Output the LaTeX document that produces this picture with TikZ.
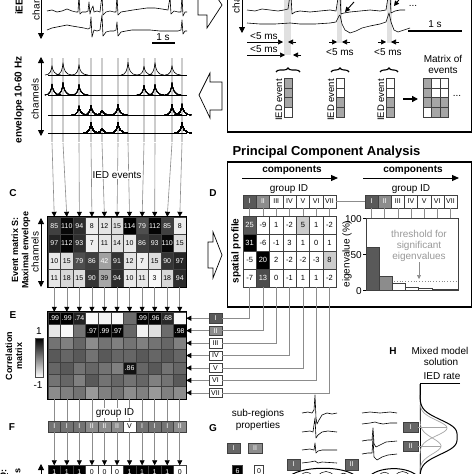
\documentclass[tikz,border=0pt]{standalone}
\usepackage{fontspec}
\setmainfont{Liberation Sans}
\usetikzlibrary{arrows.meta,decorations.pathreplacing}

\tikzset{
  fs/.style={font=\fontsize{#1}{#1}\selectfont},
  bl/.style={font=\bfseries\fontsize{10}{11}\selectfont},
  tx/.style={font=\fontsize{10}{11}\selectfont},
  gl/.style={draw=black!45, line width=0.6pt},
  arr/.style={draw=black!45, line width=0.6pt, -{Triangle[length=5pt,width=5pt,color=black]}},
  cellbox/.style={draw=black!75, line width=0.4pt, inner sep=0pt, anchor=center},
  trace/.style={line width=0.6pt, line join=round},
  hollow/.style={draw=black, line width=0.7pt, fill=white, line join=miter},
  panel/.style={draw=black, line width=1.4pt},
  tipk/.style={-{Triangle[length=5pt,width=5pt]}},
}

\newcommand\envpeak[3]{\draw[trace] ({#1-7},#2) .. controls ({#1-2},#2) and ({#1-0.6},{#2-0.45*#3}) .. (#1,{#2-#3}) .. controls ({#1+0.6},{#2-0.45*#3}) and ({#1+2.5},#2) .. ({#1+9},#2);}

\newcommand\crow[2]{\foreach \v [count=\c] in {#2}{%
  \pgfmathsetmacro\pc{min(100,\v*0.88)}%
  \ifnum\v>40 \def\tc{white}\else\def\tc{black}\fi
  \node[cellbox, minimum width=12.55pt, minimum height=17.5pt, fill=black!\pc, text=\tc, fs=7] (C-#1-\c) at ({48+12.55*(\c-0.5)},{217+17.5*(#1-0.5)}) {\v};}}

\newcommand\erow[2]{\foreach \v/\l [count=\c] in {#2}{%
  \pgfmathsetmacro\pc{(\v+1)*50}%
  \node[cellbox, minimum width=12.55pt, minimum height=12.43pt, fill=black!\pc, text=white, fs=7] (E-#1-\c) at ({48+12.55*(\c-0.5)},{312+12.43*(#1-0.5)}) {\l};}}

\newcommand\drow[2]{\foreach \l/\f [count=\c] in {#2}{%
  \ifnum\f>40 \def\tc{white}\else\def\tc{black}\fi
  \node[cellbox, minimum width=13.3pt, minimum height=17.75pt, fill=black!\f, text=\tc, fs=7.5] (D-#1-\c) at ({243+13.3*(\c-0.5)},{216+17.75*(#1-0.5)}) {\l};}}

\newcommand\gidrow[6]{\foreach \l/\f [count=\c] in {#6}{%
  \ifnum\f>40 \def\tc{white}\else\def\tc{black}\fi
  \node[cellbox, minimum width=#3pt, minimum height=#5pt, fill=black!\f, text=\tc, fs=7] (#1-\c) at ({#2+#3*(\c-0.5)},#4) {\l};}}

\newcommand\evcol[3]{\foreach \f [count=\r] in {#3}{%
  \node[cellbox, minimum width=8.5pt, minimum height=9.75pt, fill=black!\f] (#1-\r) at ({#2+4.25},{78+9.75*(\r-0.5)}) {};}}

\begin{document}
\begin{tikzpicture}[x=1pt,y=-1pt]
\useasboundingbox (0,0) rectangle (474,474);
\clip (0,0) rectangle (474,474);
\fill[white] (0,0) rectangle (474,474);

% ---------------- Panel A (iEEG) ----------------
\node[bl, rotate=90] (lA) at (19,3) {iEEG};
\node[tx, rotate=90] (chA) at (36,0) {channels};
\draw[line width=0.8pt, -{Triangle[length=6pt,width=6pt]}] (41,-5) -- (41,39);
\draw[trace] plot coordinates {(47,11) (52,10) (57,12) (62,11) (67,9) (72,11) (76,12) (78,12) (79,-5) (80,14) (82,12) (86,12) (88,11) (89,2) (90,14) (91,10) (93,6) (94,12) (97,11) (100,12) (102,-5) (103,15) (106,12) (110,11) (114,12) (116,12) (117,-5) (118,15) (121,12) (127,11) (133,10) (140,9) (147,8) (155,8) (162,9) (168,10) (170,-3) (171,14) (174,11) (178,12) (181,12) (182,-5) (183,16) (185,12) (187,12)};
\draw[trace] plot coordinates {(47,30) (52,28) (57,27) (62,26) (67,25) (72,26) (78,27) (84,28) (88,29) (90,28) (91,17) (92,37) (94,30) (97,31) (100,30) (102,15) (103,36) (106,32) (110,31) (114,31) (116,30) (117,22) (118,36) (121,32) (126,31) (132,30) (140,30) (150,30) (160,31) (170,31) (178,31) (181,30) (182,20) (183,34) (185,31) (187,31)};
\draw[line width=2pt] (152,43) -- (175,43);
\node[tx] (sA) at (163,37) {1 s};

% ---------------- Envelope ----------------
\node[bl, rotate=90] (lEnv) at (19,100) {envelope 10-60 Hz};
\node[tx, rotate=90] (chEnv) at (35,99) {channels};
\draw[line width=0.8pt, {Triangle[length=6pt,width=6pt]}-{Triangle[length=6pt,width=6pt]}] (41,57) -- (41,136);
\foreach \x in {52,63,79,91,102,118,128,144,155,172,182}
  \draw[black!20, line width=2pt] (\x,58) -- (\x,142);
\foreach \b in {75,95,115,133} \draw[trace] (48,\b) -- (187,\b);
\foreach \x/\h in {52/9.4,63/12.2,79/10.4,128/12.7,144/8.8,155/12.4,172/9.4} \envpeak{\x}{75}{\h}
\foreach \x/\h in {52/10.8,63/12.4,79/10.3,144/9.6,155/10.3,172/12.2} \envpeak{\x}{95}{\h}
\foreach \x/\h in {79/8.8,91/9.6,102/4.7,118/10.1,172/10,182/10.8} \envpeak{\x}{115}{\h}
\foreach \x/\h in {91/10,102/4.3,118/10.4,182/10.4} \envpeak{\x}{133}{\h}
\foreach \x [count=\c] in {52,63,79,91,102,118,128,144,155,172,182}
  \coordinate (ev\c) at (\x,143);

% ---------------- Hollow arrows ----------------
\draw[hollow] (198,-5) -- (207,-5) -- (207,-18) -- (222,5) -- (207,28) -- (207,15) -- (198,15) -- cycle;
\draw[hollow] (222,82) -- (210,82) -- (210,73) -- (199,95) -- (210,118) -- (210,110) -- (222,110) -- cycle;
\draw[hollow] (208,242) -- (213,242) -- (213,232) -- (222,255) -- (213,278) -- (213,268) -- (208,268) -- cycle;

% ---------------- Panel B ----------------
\fill[black!12] (284,-2) rectangle (291,55);
\fill[black!12] (337,-2) rectangle (342,43);
\fill[black!12] (387,-2) rectangle (392,43);
\node[tx, rotate=90] (chB) at (236,-7) {channels};
\draw[line width=0.8pt, -{Triangle[length=6pt,width=6pt]}] (242,-5) -- (242,33);
\draw[trace] plot coordinates {(247,10) (255,11) (262,9) (270,10) (278,11) (284,10) (288,9) (290,-5) (291,-5) (292,14) (295,12) (300,11) (310,12) (320,11) (330,10) (336,11) (338,-2) (340,-4) (341,14) (344,13) (350,12) (360,11) (370,10) (380,11) (386,10) (388,-3) (390,-5) (391,13) (395,11) (400,10) (405,10)};
\draw[trace] plot coordinates {(247,23) (260,24) (275,24) (290,23) (300,24) (315,24) (330,23) (336,22) (339,16) (340,15) (342,24) (345,30) (350,33) (356,31) (362,28) (370,26) (380,24) (386,22) (388,16) (389,13) (391,22) (394,30) (398,32) (404,30) (410,28)};
\node[tx] (dotsB) at (413,6) {...};
\coordinate (pa1) at (354,2); \coordinate (pb1) at (345,12);
\coordinate (pa2) at (402,-4); \coordinate (pb2) at (394,6);
\draw[line width=0.9pt, -{Triangle[length=5pt,width=5pt]}] (pa1) -- (pb1);
\draw[line width=0.9pt, -{Triangle[length=5pt,width=5pt]}] (pa2) -- (pb2);
\draw[line width=2pt] (408,31) -- (462,31);
\node[tx] (sB) at (435,24) {1 s};
% <5 ms markers
\node[tx] (ms1) at (264,36) {<5 ms};
\node[tx] (ms2) at (264,49) {<5 ms};
\node[tx] (ms3) at (340,52) {<5 ms};
\node[tx] (ms4) at (388,52) {<5 ms};
\draw[line width=0.6pt, tipk] (247,42) -- (283,42);
\draw[line width=0.6pt, tipk] (296,42) -- (288,42);
\draw[line width=0.6pt, tipk] (247,55) -- (285,55);
\draw[line width=0.6pt, tipk] (301,55) -- (293,55);
\draw[line width=0.6pt, tipk] (329,42) -- (337,42);
\draw[line width=0.6pt, tipk] (350,42) -- (342,42);
\draw[line width=0.6pt, tipk] (378,42) -- (386,42);
\draw[line width=0.6pt, tipk] (399,42) -- (391,42);
% braces
\draw[line width=1.1pt, decorate, decoration={brace, amplitude=4pt}] (276,72) -- (300,72);
\draw[line width=1.1pt, decorate, decoration={brace, amplitude=4pt}] (331,72) -- (349,72);
\draw[line width=1.1pt, decorate, decoration={brace, amplitude=4pt}] (380,72) -- (398,72);
% IED event columns
\evcol{V1}{284}{35,35,35,0}
\evcol{V2}{336}{0,0,35,35}
\evcol{V3}{386}{0,0,35,35}
\node[tx, rotate=90, fs=9.5] (ie1) at (279,100) {IED event};
\node[tx, rotate=90, fs=9.5] (ie2) at (331,100) {IED event};
\node[tx, rotate=90, fs=9.5] (ie3) at (381,100) {IED event};
\coordinate (ma) at (403,99); \coordinate (mb) at (418,99);
\draw[line width=1.3pt, -{Triangle[length=6pt,width=6pt]}] (ma) -- (mb);
\node[tx] (mo1) at (443,59) {Matrix of};
\node[tx] (mo2) at (443,70) {events};
\evcol{M1}{423}{35,35,35,0}
\evcol{M2}{431.5}{0,0,35,35}
\evcol{M3}{440}{0,0,35,35}
\node[tx] (dotsM) at (457,96) {...};
\draw[panel] (227.5,-10) rectangle (471.5,132);

% ---------------- Panel C ----------------
\node[bl] (lC) at (13,193) {C};
\node[bl, rotate=90, fs=9] (lS1) at (15,250) {\bfseries Event matrix S:};
\node[bl, rotate=90, fs=9] (lS2) at (26,250) {\bfseries Maximal envelope};
\node[tx, rotate=90] (chC) at (35,252) {channels};
\draw[line width=0.8pt, {Triangle[length=6pt,width=6pt]}-{Triangle[length=6pt,width=6pt]}] (41,218) -- (41,287);
\crow{1}{85,110,94,8,12,15,114,79,112,85,8}
\crow{2}{97,112,93,7,11,14,10,86,93,110,15}
\crow{3}{10,15,79,86,42,91,12,7,15,90,97}
\crow{4}{11,18,15,90,39,94,10,11,3,18,94}
\draw[line width=0.8pt] (C-1-1.north west) rectangle (C-4-11.south east);
\foreach \c in {1,...,11} \draw[arr] (ev\c) -- (C-1-\c.north);
\node[tx, fill=white, inner sep=1pt] (iedev) at (117,175) {IED events};

% ---------------- Panel D (PCA) ----------------
\node[font=\bfseries\fontsize{13}{14}\selectfont, anchor=west] (pca) at (229,152) {Principal Component Analysis};
\node[bl] (lD) at (213,193) {D};
\node[bl] (comp1) at (292,170) {components};
\node[bl] (comp2) at (413,170) {components};
\coordinate (c1a) at (242,178); \coordinate (c1b) at (338,178);
\coordinate (c2a) at (363,178); \coordinate (c2b) at (459,178);
\draw[line width=1pt, -{Triangle[length=7pt,width=6pt]}] (c1a) -- (c1b);
\draw[line width=1pt, -{Triangle[length=7pt,width=6pt]}] (c2a) -- (c2b);
\node[tx] (gid1) at (289,189) {group ID};
\node[tx] (gid2) at (411,189) {group ID};
\gidrow{GA}{243}{13.3}{201.5}{13}{I/65,II/45,III/0,IV/0,V/0,VI/0,VII/0}
\gidrow{GB}{365}{13.14}{201.5}{13}{I/65,II/45,III/0,IV/0,V/0,VI/0,VII/0}
\draw[gl] (GA-7.east) -- (GB-1.west);
\node[bl, rotate=90] (sp) at (236,251) {spatial profile};
\drow{1}{25/65,-9/0,1/0,-2/0,5/20,1/0,-2/0}
\drow{2}{31/100,-6/0,-1/0,3/0,1/0,0/0,1/0}
\drow{3}{-5/0,20/100,2/0,-2/0,-2/0,-3/0,8/20}
\drow{4}{-7/0,13/70,0/0,-1/0,1/0,1/0,-2/0}
\foreach \c in {1,...,7} \draw[gl] (GA-\c.south) -- (D-1-\c.north);
% eigenvalue plot
\draw[black!45, line width=0.8pt, dotted] (366,281) -- (458,281);
\foreach \p [count=\c] in {60,19.5,10,4,3,1.8,1.8} {
  \pgfmathsetmacro\fc{\c==1 ? 65 : (\c==2 ? 45 : 0)}
  \draw[black!75, line width=0.4pt, fill=black!\fc] ({366+13.14*(\c-1)},290) rectangle ({366+13.14*\c},{290-0.72*\p});
}
\draw[black!75, line width=0.6pt] (366,218) rectangle (458,290);
\foreach \c in {1,...,7} \draw[gl] (GB-\c.south) -- (GB-\c.south |- 0,218);
\draw[line width=0.5pt] (363,218) -- (366,218) (363,254) -- (366,254) (363,290) -- (366,290);
\node[tx, anchor=east, inner sep=1pt] (y100) at (363,219) {100};
\node[tx, anchor=east, inner sep=1pt] (y50) at (363,255) {50};
\node[tx, anchor=east, inner sep=1pt] (y0) at (363,291) {0};
\node[tx, rotate=90] (eig) at (347,254) {eigenvalue (\%)};
\node[tx, text=black!40, align=center, font=\fontsize{10}{11}\selectfont] (thr) at (419,246) {threshold for\\significant\\eigenvalues};
\coordinate (ta) at (419,262); \coordinate (tb) at (419,279);
\draw[black!45, line width=0.6pt, -{Triangle[length=4pt,width=4pt,color=black!45]}] (ta) -- (tb);
\draw[panel] (227.5,162) rectangle (471.5,307);

% ---------------- Panel E ----------------
\node[bl] (lE) at (13,315) {E};
\node[bl, rotate=90, fs=9] (corr1) at (9,356) {\bfseries Correlation};
\node[bl, rotate=90, fs=9] (corr2) at (19,356) {\bfseries matrix};
\shade[top color=black, bottom color=white] (35,338) rectangle (43,377);
\draw[black!70, line width=0.4pt] (35,338) rectangle (43,377);
\node[tx] (cb1) at (39,331) {1};
\node[tx] (cbm1) at (38,385) {-1};
\erow{1}{0.99/.99,0.99/.99,0.74/.74,-0.95/{},-0.9/{},-0.95/{},0.15/{},0.99/.99,0.96/.96,0.68/.68,-0.95/{}}
\erow{2}{-0.8/{},-0.95/{},0.1/{},0.97/.97,0.99/.99,0.97/.97,0.2/{},-0.9/{},-0.75/{},0.15/{},0.98/.98}
\erow{3}{0.1/{},0.0/{},0.2/{},-0.1/{},0.1/{},0.0/{},0.1/{},0.0/{},0.1/{},0.2/{},0.0/{}}
\erow{4}{0.3/{},0.2/{},0.3/{},0.1/{},0.3/{},0.2/{},0.2/{},0.3/{},0.2/{},0.3/{},0.2/{}}
\erow{5}{0.2/{},0.3/{},0.1/{},0.2/{},0.1/{},0.0/{},0.86/.86,0.2/{},0.3/{},0.1/{},0.2/{}}
\erow{6}{0.1/{},0.2/{},0.0/{},0.3/{},0.1/{},0.2/{},0.1/{},0.2/{},0.0/{},0.1/{},0.3/{}}
\erow{7}{-0.1/{},0.0/{},0.1/{},-0.2/{},0.0/{},0.1/{},-0.1/{},0.0/{},-0.2/{},0.0/{},-0.1/{}}
\draw[line width=0.8pt] (E-1-1.north west) rectangle (E-7-11.south east);
\foreach \c in {1,...,11} \draw[arr] (C-4-\c.south) -- (E-1-\c.north);
\foreach \l/\f [count=\r] in {I/65,II/45,III/0,IV/0,V/0,VI/0,VII/0} {
  \ifnum\f>40 \def\tc{white}\else\def\tc{black}\fi
  \node[cellbox, minimum width=13pt, minimum height=9.5pt, fill=black!\f, text=\tc, fs=7] (R-\r) at (215.5,{312+12.43*(\r-0.5)}) {\l};
}
\foreach \r in {1,...,7} {
  \draw[arr] (R-\r.west) -- (E-\r-11.east);
  \draw[gl] (R-\r.east) -| (D-4-\r.south);
}

% ---------------- Panel F ----------------
\node[bl] (lF) at (12,427) {F};
\gidrow{F}{48}{12.55}{426.5}{11}{I/55,I/55,I/55,II/45,II/45,II/45,V/0,I/55,I/55,I/55,II/45}
\foreach \c in {1,...,11} \draw[gl] (E-7-\c.south) -- (F-\c.north);
\node[tx, fill=white, inner sep=1pt] (gidF) at (115,413) {group ID};
\gidrow{Q}{48}{12.55}{472}{13}{1/100,1/100,1/100,0/0,0/0,0/0,1/100,1/100,1/100,1/100,0/0}
\foreach \c in {1,...,11} \draw[arr] (F-\c.south) -- (Q-\c.north);
\node[bl, rotate=90, fs=9, anchor=east] (lQ1) at (4,466) {\bfseries Event matrix Q:};
\node[bl, rotate=90, fs=9, anchor=east] (lQ2) at (18,465) {\bfseries sub-regions};
\draw[line width=0.8pt, -{Triangle[length=6pt,width=6pt]}] (41,485) -- (41,464);

% ---------------- Panel G ----------------
\node[bl] (lG) at (213,428) {G};
\node[tx] (sr1) at (258,414) {sub-regions};
\node[tx] (sr2) at (258,426) {properties};
\node[cellbox, minimum width=13pt, minimum height=10pt, fill=black!60, text=white, fs=7] (gI) at (233.5,448) {I};
\node[cellbox, minimum width=14pt, minimum height=10pt, fill=black!45, text=white, fs=7] (gII) at (255,448) {II};
\node[cellbox, minimum width=10pt, minimum height=12pt, fill=black, text=white, fs=7] (g6) at (237.5,471) {6};
\node[cellbox, minimum width=9pt, minimum height=12pt, fill=white, fs=7] (g0) at (259,471) {0};
% brains
\draw[line width=1pt] (288,478) .. controls (296,466) and (346,464) .. (358,478);
\draw[line width=0.5pt] (300,476) .. controls (304,471) and (310,471) .. (312,476);
\draw[line width=0.5pt] (318,476) .. controls (322,470) and (330,470) .. (334,476);
\draw[line width=0.5pt] (338,477) .. controls (341,472) and (346,472) .. (349,477);
\draw[line width=1pt] (368,478) .. controls (376,466) and (410,465) .. (419,478);
\draw[line width=0.5pt] (378,476) .. controls (382,471) and (388,471) .. (390,476);
\draw[line width=0.5pt] (395,476) .. controls (399,470) and (406,470) .. (410,476);
% traces
\draw[trace] plot coordinates {(302,413) (308,412) (312,413) (314,410) (315,395) (316,418) (317,424) (319,420) (322,415) (327,413) (332,414) (337,413)};
\draw[trace] plot coordinates {(302,432) (310,431) (313,432) (315,418) (316,438) (318,435) (322,432) (328,431) (337,432)};
\draw[trace] plot coordinates {(302,450) (310,449) (314,450) (315,443) (316,453) (318,451) (322,450) (337,450)};
\draw[trace] plot coordinates {(302,463) (310,462) (315,461) (318,463) (322,462) (337,463)};
\draw[trace] plot coordinates {(362,413) (370,412) (380,413) (390,412) (397,413)};
\draw[trace] plot coordinates {(362,424) (370,423) (375,422) (378,423) (383,424) (390,423) (397,423)};
\draw[trace] plot coordinates {(362,441) (368,440) (372,440) (373,428) (374,444) (376,447) (380,445) (386,442) (397,441)};
\draw[trace] plot coordinates {(362,454) (368,453) (372,453) (373,438) (374,457) (377,460) (382,457) (388,455) (397,454)};
\node[cellbox, minimum width=13pt, minimum height=11pt, fill=black!60, text=white, fs=7] (gI2) at (293.5,464.5) {I};
\node[cellbox, minimum width=13pt, minimum height=11pt, fill=black!60, text=white, fs=7] (gII2) at (351.5,464.5) {II};

% ---------------- Panel H ----------------
\node[bl] (lH) at (393,351) {H};
\node[tx] (mm1) at (440,351) {Mixed model};
\node[tx] (mm2) at (441,362) {solution};
\node[tx] (ir) at (442,376) {IED rate};
\draw[line width=1pt] (460,383) -- (420,383) -- (420,480);
\draw[black!35, line width=0.7pt] plot[domain=395:480, samples=70, variable=\t, smooth] ({420+27*exp(-(((\t-428)/11)^2))}, \t);
\draw[black!35, line width=0.7pt] plot[domain=405:480, samples=70, variable=\t, smooth] ({420+21*exp(-(((\t-446)/11)^2))}, \t);
\draw[line width=1pt] plot[domain=384:480, samples=90, variable=\t, smooth] ({420+30*exp(-(((\t-428)/13)^2))+30*exp(-(((\t-446)/13)^2))}, \t);
\node[cellbox, minimum width=15pt, minimum height=10pt, fill=black!60, text=white, fs=7] (hI) at (410.5,427.5) {I};
\node[cellbox, minimum width=15pt, minimum height=10pt, fill=black!60, text=white, fs=7] (hII) at (410.5,446) {II};
\coordinate (hIe) at (447,427.5); \coordinate (hIIe) at (441,446);
\draw[black!35, line width=0.7pt] (hI.east) -- (hIe);
\draw[black!35, line width=0.7pt] (hII.east) -- (hIIe);
\end{tikzpicture}
\end{document}
